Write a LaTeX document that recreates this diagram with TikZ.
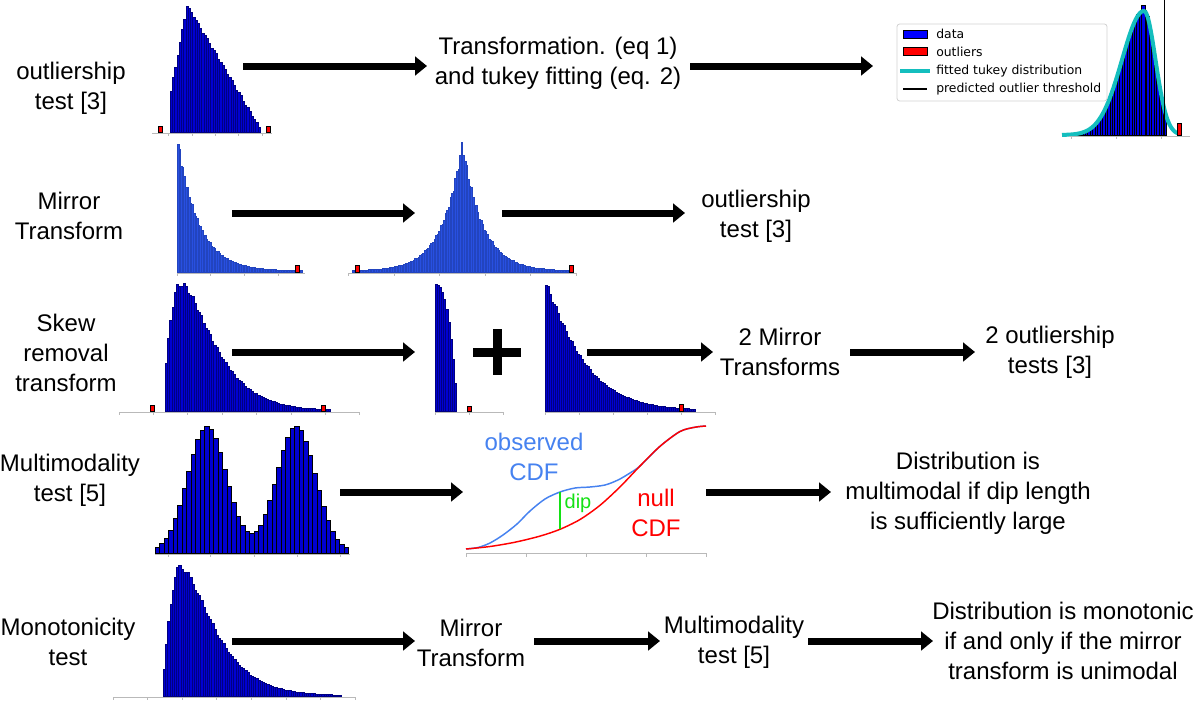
\documentclass[tikz,border=0pt]{standalone}
\usepackage{fontspec}
\setmainfont{Liberation Sans}
\newfontfamily\legfont{DejaVu Sans}
\usetikzlibrary{arrows.meta}
\definecolor{hblue}{RGB}{0,0,210}
\definecolor{tblue}{RGB}{0,0,235}
\definecolor{mblue}{RGB}{40,80,225}
\definecolor{cdfblue}{RGB}{70,130,240}
\definecolor{cyanc}{RGB}{20,190,190}
\definecolor{dipgreen}{RGB}{20,225,20}
\definecolor{axgray}{RGB}{185,185,185}
\begin{document}
\begin{tikzpicture}[x=0.75pt,y=-0.75pt,
  lbl/.style={font=\fontsize{18pt}{22.5pt}\selectfont, align=center, inner sep=0pt},
  flow/.style={line width=5.25pt, -{Triangle[length=9pt,width=14pt]}},
  bar/.style={fill=hblue, draw=black!50!blue, line width=0.1pt},
  tbar/.style={fill=tblue, draw=black, line width=0.2pt},
  bbar/.style={fill=hblue, draw=black, line width=0.35pt},
  mbar/.style={fill=mblue, draw=mblue!85!black, line width=0.1pt},
  outl/.style={fill=red, draw=black, line width=0.4pt},
  ax/.style={draw=axgray, line width=0.5pt},
  legtxt/.style={font=\legfont\fontsize{9.3pt}{11pt}\selectfont, anchor=west, inner sep=0pt},
]
\fill[white] (0,0) rectangle (1200,703);
\useasboundingbox (0,0) rectangle (1200,703);

% ---------------- Row 1 ----------------
\node[lbl] (l1) at (71,88) {outliership\\test [3]};
\foreach \i in {0,...,39}{
  \pgfmathsetmacro\myx{170+2.25*\i}
  \pgfmathsetmacro\myc{\myx+1.125}
  \pgfmathsetmacro\myh{max(1,ifthenelse(\myc<187,35+92*(\myc-170)/17,127*(1-(\myc-187)/75))+1.2*sin(\i*97))}
  \path[bar] (\myx,132) rectangle ({\myx+2.25},{132-\myh});
}
\path[outl] (158,126) rectangle (162,132);
\path[outl] (266,126) rectangle (270,132);
\draw[ax] (152,133) -- (272,133);
\foreach \t in {168,192,215,238,262} \draw[ax] (\t,133) -- (\t,136);

\coordinate (a1s) at (243,66);
\coordinate (a1e) at (427,66);
\draw[flow] (a1s) -- (a1e);
\node[lbl] (t1) at (558,63) {Transformation. (eq 1)\\and tukey fitting (eq. 2)};
\coordinate (a2s) at (690,66);
\coordinate (a2e) at (873,66);
\draw[flow] (a2s) -- (a2e);

% fitted histogram
\foreach \i in {0,...,39}{
  \pgfmathsetmacro\myx{1068+2.45*\i}
  \pgfmathsetmacro\myc{\myx+1.225}
  \pgfmathsetmacro\mys{ifthenelse(\myc<1144,22,11)}
  \pgfmathsetmacro\myh{126*exp(-0.5*((\myc-1144)/\mys)*((\myc-1144)/\mys))}
  \path[tbar] (\myx,135) rectangle ({\myx+2.45},{135-\myh});
}
\path[tbar] (1141.5,135) rectangle (1145,5);
\draw[cyanc, line width=3pt] plot[domain=1062:1178, samples=100, smooth]
  (\x, {135-124*exp(-0.5*((\x-1144)/ifthenelse(\x<1144,22,11.5))*((\x-1144)/ifthenelse(\x<1144,22,11.5)))});
\draw[black, line width=0.75pt] (1164,0) -- (1164,135);
\path[outl] (1177,123) rectangle (1181,135);
\draw[ax] (1069,136) -- (1190,136);
\foreach \t in {1071,1116,1161} \draw[ax] (\t,136) -- (\t,139);

% legend
\draw[draw=gray!35, fill=white, rounded corners=2pt, line width=0.6pt] (897,24) rectangle (1107,101);
\path[fill=blue, draw=black, line width=0.4pt] (903,30) rectangle (927,38);
\path[fill=red, draw=black, line width=0.4pt] (903,47) rectangle (927,55);
\draw[cyanc, line width=3pt] (900,71) -- (930,71);
\draw[black, line width=0.8pt] (903,89) -- (927,89);
\node[legtxt] (lg1) at (936,34) {data};
\node[legtxt] (lg2) at (936,51.5) {outliers};
\node[legtxt] (lg3) at (936,71) {fitted tukey distribution};
\node[legtxt] (lg4) at (936,89) {predicted outlier threshold};

% ---------------- Row 2 ----------------
\node[lbl] (l2) at (69,216) {Mirror\\Transform};
\foreach \i in {0,...,77}{
  \pgfmathsetmacro\myx{177+1.6*\i}
  \pgfmathsetmacro\myh{127*exp(-(1.6*\i)/21)*(1+0.04*sin(\i*131))+1.2}
  \path[mbar] (\myx,272) rectangle ({\myx+1.6},{272-\myh});
}
\path[outl] (295,265) rectangle (299,272);
\draw[ax] (177,273) -- (305,273);
\foreach \t in {177,210,244,278} \draw[ax] (\t,273) -- (\t,276);

\coordinate (b1s) at (232,213);
\coordinate (b1e) at (415,213);
\draw[flow] (b1s) -- (b1e);

\foreach \i in {0,...,137}{
  \pgfmathsetmacro\myx{352+1.6*\i}
  \pgfmathsetmacro\myh{127*exp(-abs(\myx+0.8-462)/20)*(1+0.04*sin(\i*113))+1.2}
  \path[mbar] (\myx,272) rectangle ({\myx+1.6},{272-\myh});
}
\path[outl] (355,265) rectangle (359,272);
\path[outl] (569,265) rectangle (573,272);
\draw[ax] (348,273) -- (576,273);
\foreach \t in {348,394,439,485,530,576} \draw[ax] (\t,273) -- (\t,276);

\coordinate (b2s) at (502,213);
\coordinate (b2e) at (685,213);
\draw[flow] (b2s) -- (b2e);
\node[lbl] (t2) at (756,216) {outliership\\test [3]};

% ---------------- Row 3 ----------------
\node[lbl] (l3) at (66,353) {Skew\\removal\\transform};
\foreach \i in {0,...,74}{
  \pgfmathsetmacro\myx{165+2.2*\i}
  \pgfmathsetmacro\myt{(\myx+1.1-160)/20}
  \pgfmathsetmacro\mya{ifthenelse(\myt<1,2,0.9)}
  \pgfmathsetmacro\myh{127*pow(\myt,\mya)*exp(-\mya*(\myt-1))*(1+0.025*sin(\i*97))+0.5}
  \path[bar] (\myx,411) rectangle ({\myx+2.2},{411-\myh});
}
\path[outl] (150,405) rectangle (154,411);
\path[outl] (321,405) rectangle (325,411);
\draw[ax] (119,412) -- (360,412);
\foreach \k in {0,...,7} \draw[ax] ({119+34.4*\k},412) -- ({119+34.4*\k},415);

\coordinate (c1s) at (232,352);
\coordinate (c1e) at (415,352);
\draw[flow] (c1s) -- (c1e);

\foreach \i in {0,...,9}{
  \pgfmathsetmacro\myx{435+2.1*\i}
  \pgfmathsetmacro\myt{(\myx+1.05-435)/22}
  \pgfmathsetmacro\myh{127*(1-pow(\myt,2.5))}
  \path[bar] (\myx,411) rectangle ({\myx+2.1},{411-\myh});
}
\path[outl] (467,406) rectangle (471,411);
\draw[ax] (435,412) -- (503,412);
\foreach \t in {435,469,503} \draw[ax] (\t,412) -- (\t,415);

\fill[black] (473,347.5) rectangle (521,356.5);
\fill[black] (492.5,329) rectangle (501.5,375);

\foreach \i in {0,...,74}{
  \pgfmathsetmacro\myx{545+2*\i}
  \pgfmathsetmacro\myh{127*exp(-pow((\myx+1-545)/40,1.15))*(1+0.025*sin(\i*89))+0.8}
  \path[bar] (\myx,411) rectangle ({\myx+2},{411-\myh});
}
\path[outl] (679,404) rectangle (683,411);
\draw[ax] (545,412) -- (715,412);
\foreach \t in {545,579,613,647,681,715} \draw[ax] (\t,412) -- (\t,415);

\coordinate (c2s) at (587,352);
\coordinate (c2e) at (713,352);
\draw[flow] (c2s) -- (c2e);
\node[lbl] (t3) at (780,352) {2 Mirror\\Transforms};
\coordinate (c3s) at (850,352);
\coordinate (c3e) at (975,352);
\draw[flow] (c3s) -- (c3e);
\node[lbl] (t4) at (1050,352) {2 outliership\\tests [3]};

% ---------------- Row 4 ----------------
\node[lbl] (l4) at (70,480) {Multimodality\\test [5]};
\foreach \i in {0,...,42}{
  \pgfmathsetmacro\myx{155+4.5*\i}
  \pgfmathsetmacro\myc{\myx+2.25}
  \pgfmathsetmacro\myh{126*(exp(-0.5*((\myc-207)/19.5)*((\myc-207)/19.5))+exp(-0.5*((\myc-296)/19.5)*((\myc-296)/19.5)))+0.8}
  \path[bbar] (\myx,553) rectangle ({\myx+4.5},{553-\myh});
}
\draw[ax] (155,554) -- (350,554);
\foreach \t in {168,210,254,297,340} \draw[ax] (\t,554) -- (\t,557);

\coordinate (d1s) at (340,492);
\coordinate (d1e) at (463,492);
\draw[flow] (d1s) -- (d1e);

\draw[ax] (466,553) -- (706,553);
\foreach \t in {466,526,586,646,706} \draw[ax] (\t,553) -- (\t,557);
\draw[cdfblue, line width=1.1pt] plot[smooth] coordinates {(466,549) (478,547.5) (490,543) (503,535) (517,524) (530,511) (545,499) (560,492) (575,488) (590,487) (605,485) (618,480) (630,473) (640,466) (660,446.3) (680,431.5) (695,427.2) (706,426)};
\draw[red, line width=1.1pt] plot[smooth] coordinates {(466,549) (490,546.5) (515,542.2) (540,536.1) (560,529.3) (580,519.5) (600,505.3) (620,486.9) (640,466) (660,446.3) (680,431.5) (695,427.2) (706,426)};
\draw[dipgreen, line width=1pt] (560,492) -- (560,529.3);
\node[lbl, text=cdfblue] (obs) at (534,457) {observed\\CDF};
\node[lbl, text=red] (nul) at (656,513) {null\\CDF};
\node[lbl, text=dipgreen, font=\fontsize{15pt}{18pt}\selectfont] (dip) at (578,503) {dip};

\coordinate (d2s) at (706,492);
\coordinate (d2e) at (831,492);
\draw[flow] (d2s) -- (d2e);
\node[lbl] (t5) at (968,493) {Distribution is\\multimodal if dip length\\is sufficiently large};

% ---------------- Row 5 ----------------
\node[lbl] (l5) at (68,642) {Monotonicity\\test};
\foreach \i in {0,...,80}{
  \pgfmathsetmacro\myx{163+2.2*\i}
  \pgfmathsetmacro\myt{(\myx+1.1-160)/20}
  \pgfmathsetmacro\mya{ifthenelse(\myt<1,2,0.9)}
  \pgfmathsetmacro\myh{128*pow(\myt,\mya)*exp(-\mya*(\myt-1))*(1+0.025*sin(\i*71))+0.5}
  \path[bar] (\myx,696) rectangle ({\myx+2.2},{696-\myh});
}
\draw[ax] (113,697) -- (355,697);
\foreach \k in {0,...,7} \draw[ax] ({113+34.57*\k},697) -- ({113+34.57*\k},700);

\coordinate (e1s) at (232,641);
\coordinate (e1e) at (415,641);
\draw[flow] (e1s) -- (e1e);
\node[lbl] (t6) at (471,643) {Mirror\\Transform};
\coordinate (e2s) at (534,641);
\coordinate (e2e) at (660,641);
\draw[flow] (e2s) -- (e2e);
\node[lbl] (t7) at (734,642) {Multimodality\\test [5]};
\coordinate (e3s) at (808,641);
\coordinate (e3e) at (933,641);
\draw[flow] (e3s) -- (e3e);
\node[lbl] (t8) at (1063,641) {Distribution is monotonic\\if and only if the mirror\\transform is unimodal};
\end{tikzpicture}
\end{document}
